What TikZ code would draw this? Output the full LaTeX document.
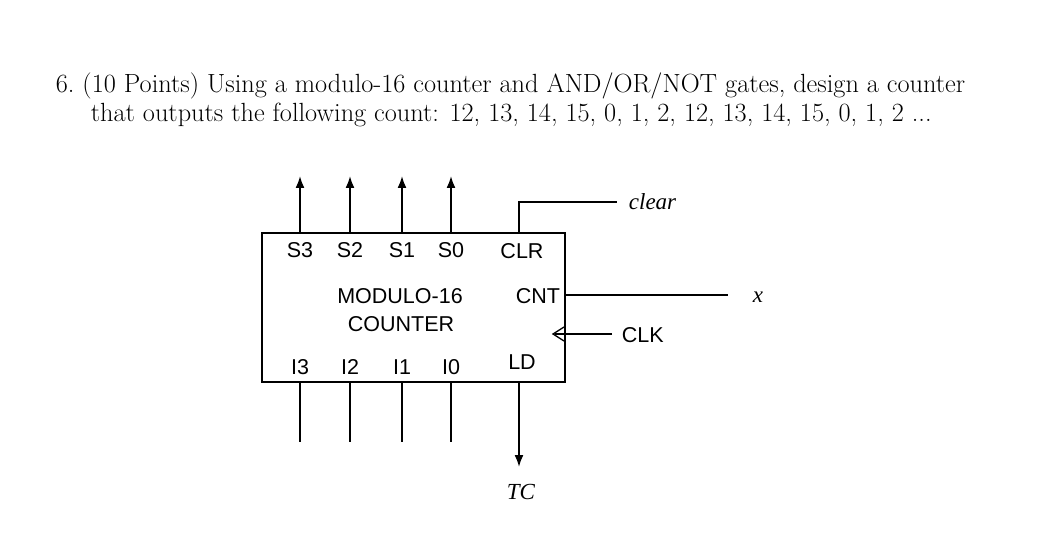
\documentclass[tikz,border=0pt]{standalone}
\usepackage{fontspec}
\newfontfamily\sansf{Liberation Sans}
\newfontfamily\serf{Liberation Serif}
\usetikzlibrary{arrows.meta}
\begin{document}
\begin{tikzpicture}[x=1pt,y=-1pt,line width=1.8pt,
  lab/.style={font=\sansf\fontsize{21.5}{22}\selectfont,inner sep=0pt},
  it/.style={font=\serf\itshape\fontsize{23}{23}\selectfont,inner sep=0pt},
  arr/.style={-{Latex[length=12pt,width=9pt]}}]
\useasboundingbox (0,0) rectangle (1050,556);
\node[anchor=base west,inner sep=0pt,font=\fontsize{26.3}{29}\selectfont] (t1) at (55,93) {6.\ (10 Points) Using a modulo-16 counter and AND/OR/NOT gates, design a counter};
\node[anchor=base west,inner sep=0pt,font=\fontsize{26.3}{29}\selectfont] (t2) at (90,122) {that outputs the following count: 12, 13, 14, 15, 0, 1, 2, 12, 13, 14, 15, 0, 1, 2 ...};
\node[draw,line width=2pt,minimum width=303pt,minimum height=149pt,inner sep=0pt,anchor=north west] (box) at (261,232) {};
\foreach \n/\x/\s/\i in {a/300/S3/I3,b/350/S2/I2,c/402/S1/I1,d/451/S0/I0}{
  \node[lab] (s\n) at (\x,250) {\s};
  \node[lab] (i\n) at (\x,367) {\i};
  \coordinate (st\n) at (\x,232);
  \coordinate (se\n) at (\x,176);
  \coordinate (ib\n) at (\x,381);
  \coordinate (ie\n) at (\x,442);
  \draw[arr] (st\n) -- (se\n);
  \draw (ib\n) -- (ie\n);
}
\node[lab] (clr) at (522,251) {CLR};
\node[lab] (mod) at (400,296) {MODULO-16};
\node[lab] (cnt) at (401,324) {COUNTER};
\node[lab] (cntl) at (538,296) {CNT};
\node[lab] (ld) at (522,362) {LD};
\coordinate (clrb) at (519,232);
\coordinate (clrt) at (519,202);
\coordinate (clre) at (617,202);
\draw (clrb) -- (clrt) -- (clre);
\node[it,anchor=west] (clear) at (628,202) {clear};
\coordinate (cntb) at (564,295);
\coordinate (cnte) at (728,295);
\draw (cntb) -- (cnte);
\node[it,anchor=west] (x) at (752,297) {x};
\coordinate (clks) at (612,334);
\coordinate (clkt) at (555,334);
\draw (clks) -- (clkt);
\draw[line width=1.3pt] (564,327) -- (553,334) -- (564,341);
\node[lab,anchor=west] (clk) at (621,335) {CLK};
\coordinate (tcb) at (519,381);
\coordinate (tce) at (519,467);
\draw[arr] (tcb) -- (tce);
\node[it] (tc) at (521,492) {TC};
\end{tikzpicture}
\end{document}
